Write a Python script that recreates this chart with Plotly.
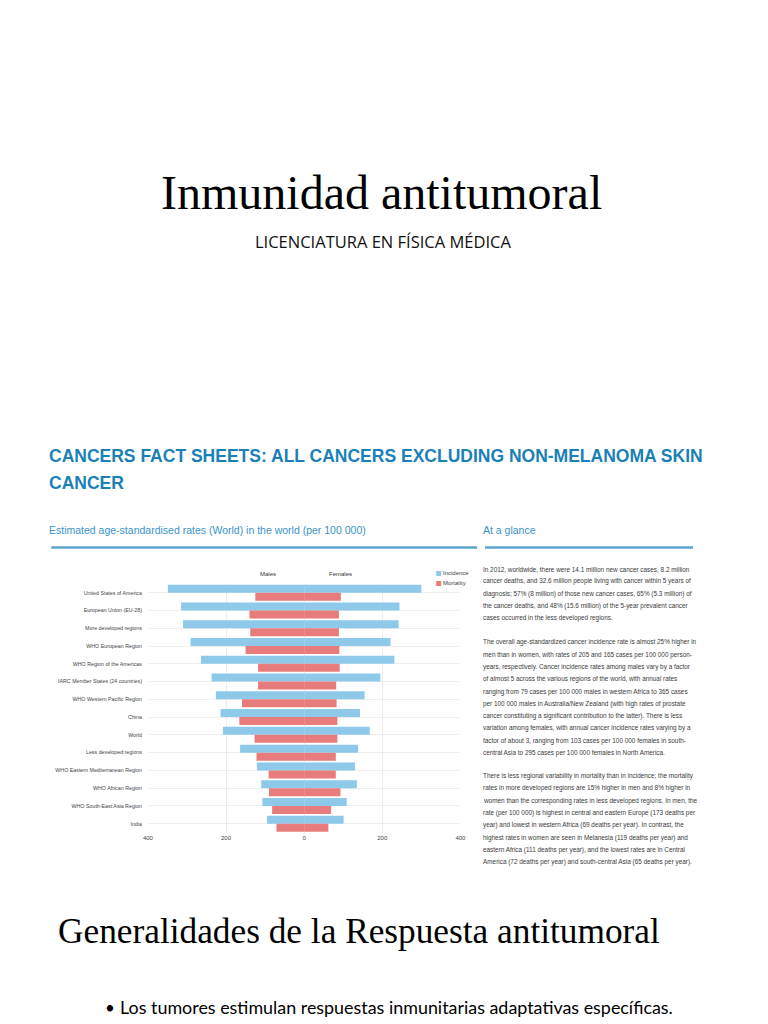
import plotly.graph_objects as go

# ---------------- data ----------------
categories = [
    "United States of America", "European Union (EU-28)", "More developed regions",
    "WHO European Region", "WHO Region of the Americas", "IARC Member States (24 countries)",
    "WHO Western Pacific Region", "China", "World", "Less developed regions",
    "WHO Eastern Mediterranean Region", "WHO African Region", "WHO South-East Asia Region", "India",
]
incidence_males = [349, 315, 310, 291, 264, 237, 226, 214, 208, 164, 121, 110, 107, 95]
incidence_females = [300, 244, 242, 221, 231, 195, 155, 143, 168, 138, 130, 135, 109, 101]
mortality_males = [125, 140, 138, 150, 118, 118, 159, 166, 127, 122, 91, 90, 82, 71]
mortality_females = [94, 89, 89, 90, 91, 82, 83, 85, 85, 81, 81, 93, 69, 62]
tick_values = [-400, -200, 0, 200, 400]
tick_labels = ["400", "200", "0", "200", "400"]

paragraphs = [
    [
        "In 2012, worldwide, there were 14.1 million new cancer cases, 8.2 million",
        "cancer deaths, and 32.6 million people living with cancer within 5 years of",
        "diagnosis; 57% (8 million) of those new cancer cases, 65% (5.3 million) of",
        "the cancer deaths, and 48% (15.6 million) of the 5-year prevalent cancer",
        "cases occurred in the less developed regions.",
    ],
    [
        "The overall age-standardized cancer incidence rate is almost 25% higher in",
        "men than in women, with rates of 205 and 165 cases per 100 000 person-",
        "years, respectively. Cancer incidence rates among males vary by a factor",
        "of almost 5 across the various regions of the world, with annual rates",
        "ranging from 79 cases per 100 000 males in western Africa to 365 cases",
        "per 100 000 males in Australia/New Zealand (with high rates of prostate",
        "cancer constituting a significant contribution to the latter). There is less",
        "variation among females, with annual cancer incidence rates varying by a",
        "factor of about 3, ranging from 103 cases per 100 000 females in south-",
        "central Asia to 295 cases per 100 000 females in North America.",
    ],
    [
        "There is less regional variability in mortality than in incidence; the mortality",
        "rates in more developed regions are 15% higher in men and 8% higher in",
        "women than the corresponding rates in less developed regions. In men, the",
        "rate (per 100 000) is highest in central and eastern Europe (173 deaths per",
        "year) and lowest in western Africa (69 deaths per year). In contrast, the",
        "highest rates in women are seen in Melanesia (119 deaths per year) and",
        "eastern Africa (111 deaths per year), and the lowest rates are in Central",
        "America (72 deaths per year) and south-central Asia (65 deaths per year).",
    ],
]

# ---------------- helpers ----------------
W, H = 768, 1024
def px(x):
    return x / W
def py(y):
    return 1 - y / H

SANS = "Liberation Sans, Arial, sans-serif"
SERIF = "Liberation Serif, Times New Roman, serif"
INC_COLOR = "#8ec9ea"
MORT_COLOR = "#e87c7c"
BLUE = "#1a80b8"

fig = go.Figure()
fig.add_trace(go.Bar(y=categories, x=[-v for v in incidence_males], orientation="h",
                     offsetgroup="inc", marker=dict(color=INC_COLOR, line_width=0), showlegend=False))
fig.add_trace(go.Bar(y=categories, x=incidence_females, orientation="h",
                     offsetgroup="inc", marker=dict(color=INC_COLOR, line_width=0), showlegend=False))
fig.add_trace(go.Bar(y=categories, x=[-v for v in mortality_males], orientation="h",
                     offsetgroup="mort", marker=dict(color=MORT_COLOR, line_width=0), showlegend=False))
fig.add_trace(go.Bar(y=categories, x=mortality_females, orientation="h",
                     offsetgroup="mort", marker=dict(color=MORT_COLOR, line_width=0), showlegend=False))

row_top, row_step = 592.7, 17.77
plot_top = row_top - row_step / 2
plot_bottom = plot_top + row_step * len(categories)

annotations = []
def txt(x, y, s, size, color="#000", family=SANS, xanchor="left", yanchor="middle"):
    annotations.append(dict(x=px(x), y=py(y), xref="paper", yref="paper", text=s, showarrow=False,
                            xanchor=xanchor, yanchor=yanchor, borderpad=0, borderwidth=0,
                            font=dict(size=size, color=color, family=family)))

# slide texts
txt(382, 192, "Inmunidad antitumoral", 48, "#000", SERIF, xanchor="center")
txt(383, 241, "LICENCIATURA EN FÍSICA MÉDICA", 16.5, "#111", "Open Sans, sans-serif", xanchor="center")

# fact sheet header
txt(45, 456, "<b>CANCERS FACT SHEETS: ALL CANCERS EXCLUDING NON-MELANOMA SKIN</b>", 17.5, BLUE)
txt(45, 483, "<b>CANCER</b>", 17.5, BLUE)
txt(45, 530, "Estimated age-standardised rates (World) in the world (per 100 000)", 10.5, "#3a93c8")
txt(485, 530, "At a glance", 10.5, "#3a93c8")

# chart labels
txt(267, 574, "Males", 6, "#333", xanchor="center")
txt(340, 574, "Females", 6, "#333", xanchor="center")
txt(444, 573, "Incidence", 6, "#444")
txt(444, 583, "Mortality", 6, "#444")

# right column paragraphs
line_step = 12.3
para_starts = [569, 642.3, 776]
for start, lines in zip(para_starts, paragraphs):
    for i, line in enumerate(lines):
        txt(485, start + i * line_step, line, 6.4, "#3a3a3a")

# bottom slide
txt(54, 931, "Generalidades de la Respuesta antitumoral", 35.3, "#000", SERIF)
txt(101, 1007, "•", 17, "#000", "Lato, sans-serif")
txt(117, 1007, "Los tumores estimulan respuestas inmunitarias adaptativas específicas.", 17.9, "#000",
    "Lato, sans-serif")

shapes = [
    dict(type="line", xref="paper", yref="paper", x0=px(47), x1=px(479), y0=py(547.5), y1=py(547.5),
         line=dict(color="#5ba3cf", width=2.5)),
    dict(type="line", xref="paper", yref="paper", x0=px(487), x1=px(698), y0=py(547.5), y1=py(547.5),
         line=dict(color="#5ba3cf", width=2.5)),
    dict(type="rect", xref="paper", yref="paper", x0=px(437.5), x1=px(442.5), y0=py(576), y1=py(571),
         fillcolor=INC_COLOR, line_width=0),
    dict(type="rect", xref="paper", yref="paper", x0=px(437.5), x1=px(442.5), y0=py(586), y1=py(581),
         fillcolor=MORT_COLOR, line_width=0),
]

fig.update_layout(
    width=W, height=H, margin=dict(l=0, r=0, t=0, b=0),
    paper_bgcolor="white", plot_bgcolor="white",
    barmode="group", bargap=0.1, bargroupgap=0,
    annotations=annotations, shapes=shapes,
    xaxis=dict(domain=[px(145), px(462)], range=[-400, 400], tickvals=tick_values, ticktext=tick_labels,
               showgrid=True, gridcolor="#ececec", gridwidth=1, zeroline=False, showline=False,
               ticks="", tickfont=dict(size=6, color="#444", family=SANS), fixedrange=True),
    yaxis=dict(domain=[py(plot_bottom), py(plot_top)], autorange="reversed",
               showgrid=True, gridcolor="#eeeeee", gridwidth=1, zeroline=False, showline=False,
               ticks="", ticklabelstandoff=5, tickfont=dict(size=5.3, color="#444", family=SANS),
               fixedrange=True),
)

fig.write_html("out.html")
